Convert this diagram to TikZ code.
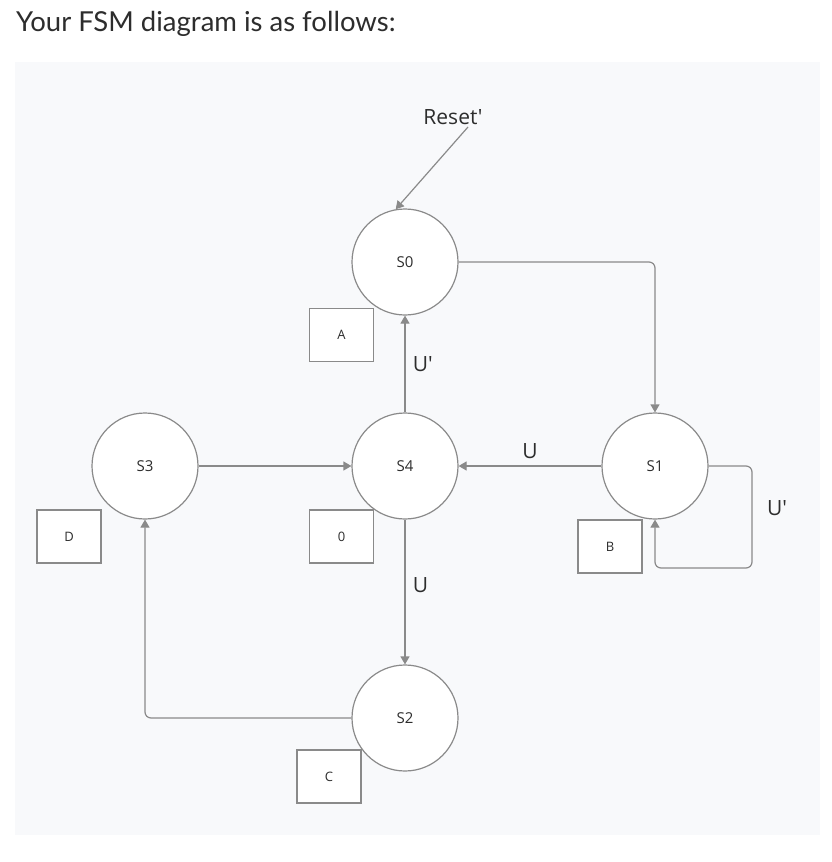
\documentclass[tikz,border=0pt]{standalone}
\usepackage{fontspec}
\setmainfont{Lato}
\newfontfamily\osans{Open Sans}[Ligatures=ResetAll]
\usetikzlibrary{arrows.meta}
\definecolor{ln}{HTML}{8A8A8A}
\definecolor{tx}{HTML}{2D2D2D}
\definecolor{bg}{HTML}{F8F9FB}
\begin{document}
\begin{tikzpicture}[x=1pt,y=-1pt,
  st/.style={circle,draw=ln,fill=white,line width=1.2pt,minimum size=106pt,inner sep=0pt,text=tx,font=\osans\fontsize{15}{17}\selectfont},
  bx/.style={draw=ln,fill=white,line width=1.2pt,minimum width=64pt,minimum height=53pt,inner sep=0pt,text=tx,font=\osans\fontsize{13}{15}\selectfont},
  ar/.style={draw=ln,line width=1.2pt,-{Triangle[length=8pt,width=9pt]},rounded corners=6pt},
  lb/.style={text=tx,font=\osans\fontsize{21}{23}\selectfont}]
\useasboundingbox (0,0) rectangle (831,862);
\fill[white] (0,0) rectangle (831,862);
\fill[bg] (15,62) rectangle (820,835);
\node[anchor=west,text=tx,inner sep=0pt,font=\fontsize{27.5}{31}\selectfont] (title) at (16,24) {Your FSM diagram is as follows:};
\node[st] (s0) at (405,262) {S0};
\node[st] (s4) at (405,466) {S4};
\node[st] (s1) at (655,466) {S1};
\node[st] (s3) at (145,466) {S3};
\node[st] (s2) at (405,718) {S2};
\node[bx] (a) at (341.5,335) {A};
\node[bx] (z) at (341.5,536.5) {0};
\node[bx] (d) at (69,536.5) {D};
\node[bx] (b) at (610,546.5) {B};
\node[bx] (c) at (329,776.5) {C};
\node[lb] (reset) at (453,117) {Reset'};
\coordinate (rs) at (468,127);
\draw[ar] (rs) -- (s0.100);
\draw[ar] (s0.east) -- (s1.north |- s0.east) -- (s1.north);
\draw[ar] (s4.north) -- node[lb,right=4pt] (l1) {U'} (s0.south);
\draw[ar] (s3.east) -- (s4.west);
\draw[ar] (s1.west) -- node[lb,above=3pt] (l2) {U} (s4.east);
\draw[ar] (s4.south) -- node[lb,right=4pt,pos=0.45] (l3) {U} (s2.north);
\draw[ar] (s2.west) -- (s3.south |- s2.west) -- (s3.south);
\coordinate (p1) at (752,466);
\coordinate (p2) at (752,568);
\draw[ar] (s1.east) -- (p1) -- (p2) -- (s1.south |- p2) -- (s1.south);
\node[lb] (l4) at (777,508) {U'};
\end{tikzpicture}
\end{document}
